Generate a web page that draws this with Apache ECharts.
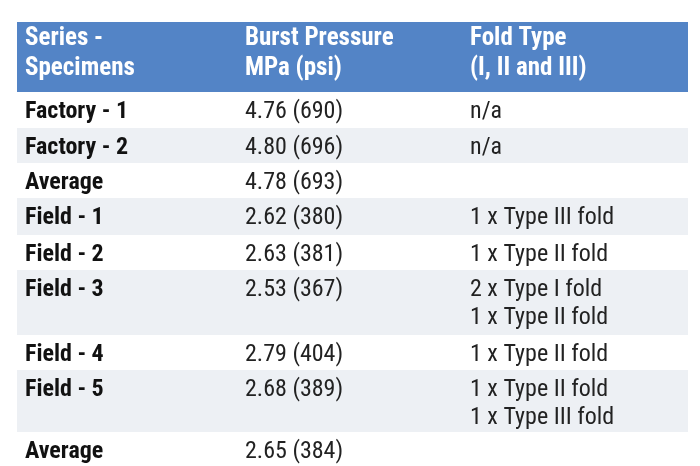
<!DOCTYPE html>
<html><head><meta charset="utf-8">
<script src="https://cdn.jsdelivr.net/npm/echarts@6/dist/echarts.min.js"></script>
<style>html,body{margin:0;padding:0;background:#fff}#c{width:700px;height:466px}</style>
</head><body><div id="c"></div>
<script>
var headers = ["Series -\nSpecimens", "Burst Pressure\nMPa (psi)", "Fold Type\n(I, II and III)"];
var specimens = ["Factory - 1", "Factory - 2", "Average", "Field - 1", "Field - 2", "Field - 3", "Field - 4", "Field - 5", "Average"];
var pressures = ["4.76 (690)", "4.80 (696)", "4.78 (693)", "2.62 (380)", "2.63 (381)", "2.53 (367)", "2.79 (404)", "2.68 (389)", "2.65 (384)"];
var folds = ["n/a", "n/a", "", "1 x Type III fold", "1 x Type II fold", "2 x Type I fold\n1 x Type II fold", "1 x Type II fold", "1 x Type II fold\n1 x Type III fold", ""];

var chart = echarts.init(document.getElementById('c'));
var font = "'Liberation Sans Narrow','Roboto Condensed','Noto Sans',sans-serif";
var L = 17, R = 688, colX = [25, 245, 470];
var rowH = [36, 35, 35, 37, 35, 65, 35, 62, 34];
var els = [];
els.push({type:'rect', shape:{x:L,y:22,width:R-L,height:70}, style:{fill:'#5384c6'}});
headers.forEach(function(h,i){
  els.push({type:'text', x:colX[i], y:54, style:{text:h, fill:'#fff', font:'bold 25px '+font, verticalAlign:'middle', lineHeight:30}});
});
var y = 92;
specimens.forEach(function(s,i){
  var h = rowH[i];
  els.push({type:'rect', shape:{x:L,y:y,width:R-L,height:h}, style:{fill: i%2===1 ? '#edf0f4' : '#ffffff'}});
  var ty = y + 20;
  els.push({type:'text', x:colX[0], y:ty, style:{text:s, fill:'#111', font:'bold 24px '+font, verticalAlign:'middle'}});
  els.push({type:'text', x:colX[1], y:ty, style:{text:pressures[i], fill:'#222', font:'24px '+font, verticalAlign:'middle'}});
  if (folds[i]) els.push({type:'text', x:colX[2], y:ty-14, style:{text:folds[i], fill:'#222', font:'24px '+font, verticalAlign:'top', lineHeight:28}});
  y += h;
});
chart.setOption({animation:false, graphic:{elements:els}});
</script></body></html>
